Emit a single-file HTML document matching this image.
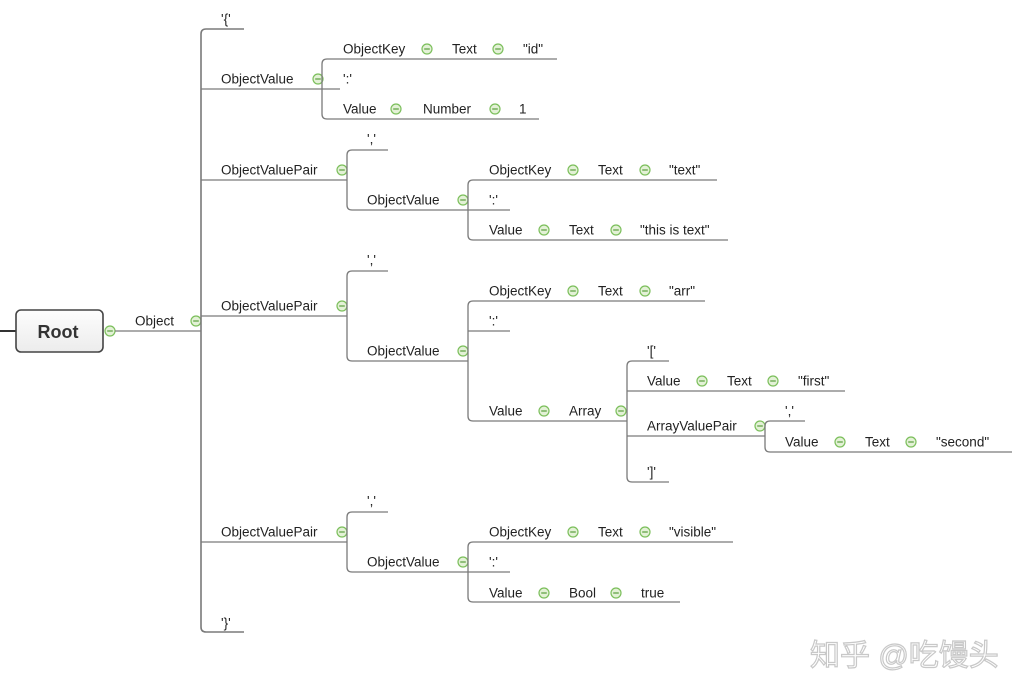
<!DOCTYPE html>
<html><head><meta charset="utf-8"><style>
html,body{margin:0;padding:0;background:#fff;width:1031px;height:698px;overflow:hidden}
svg text{font-family:"Liberation Sans","DejaVu Sans",sans-serif;font-size:13.5px;fill:#222;dominant-baseline:central}
.l{stroke:#7a7a7a;stroke-width:1.3;fill:none}
.c circle{fill:#e3f1d6;stroke:#7cbf5c;stroke-width:1.2}
.c line{stroke:#5a9e3c;stroke-width:1.2}
</style></head><body>
<svg width="1031" height="698" xmlns="http://www.w3.org/2000/svg">
<defs>
<linearGradient id="g" x1="0" y1="0" x2="0" y2="1"><stop offset="0" stop-color="#fdfdfd"/><stop offset="1" stop-color="#ececec"/></linearGradient>
<g id="m" class="c"><circle cx="0" cy="0" r="5"/><line x1="-2.8" y1="0" x2="2.8" y2="0"/></g>
</defs>
<line class="l" x1="0" y1="331" x2="16" y2="331" style="stroke:#333;stroke-width:2"/>
<rect x="16" y="310" width="87" height="42" rx="5" fill="url(#g)" stroke="#444" stroke-width="1.6"/>
<text x="58" y="332" text-anchor="middle" style="font-size:18px;font-weight:bold;fill:#333">Root</text>
<use href="#m" x="110" y="331"/>
<text x="135" y="321">Object</text>
<line class="l" x1="115" y1="331" x2="201" y2="331"/>
<use href="#m" x="196" y="321"/>

<path class="l" d="M244,29 L206,29 Q201,29 201,34 L201,627 Q201,632 206,632 L244,632" style="stroke-width:1.6"/>
<line class="l" x1="201" y1="89" x2="322" y2="89"/>
<line class="l" x1="201" y1="180" x2="347" y2="180"/>
<line class="l" x1="201" y1="316" x2="347" y2="316"/>
<line class="l" x1="201" y1="542" x2="347" y2="542"/>
<text x="221" y="19">'{'</text>
<text x="221" y="623">'}'</text>

<text x="221" y="79">ObjectValue</text><use href="#m" x="318" y="79"/>
<path class="l" d="M557,59 L327,59 Q322,59 322,64 L322,114 Q322,119 327,119 L539,119"/>
<line class="l" x1="322" y1="89" x2="340" y2="89"/>
<text x="343" y="49">ObjectKey</text><use href="#m" x="427" y="49"/><text x="452" y="49">Text</text><use href="#m" x="498" y="49"/><text x="523" y="49">"id"</text>
<text x="343" y="79">':'</text>
<text x="343" y="109">Value</text><use href="#m" x="396" y="109"/><text x="423" y="109">Number</text><use href="#m" x="495" y="109"/><text x="519" y="109">1</text>

<text x="221" y="170">ObjectValuePair</text><use href="#m" x="342" y="170"/>
<path class="l" d="M388,150 L352,150 Q347,150 347,155 L347,205 Q347,210 352,210 L468,210"/>
<text x="367" y="139">','</text>
<text x="367" y="200">ObjectValue</text><use href="#m" x="463" y="200"/>
<path class="l" d="M717,180 L473,180 Q468,180 468,185 L468,235 Q468,240 473,240 L728,240"/>
<line class="l" x1="468" y1="210" x2="510" y2="210"/>
<text x="489" y="170">ObjectKey</text><use href="#m" x="573" y="170"/><text x="598" y="170">Text</text><use href="#m" x="645" y="170"/><text x="669" y="170">"text"</text>
<text x="489" y="200">':'</text>
<text x="489" y="230">Value</text><use href="#m" x="544" y="230"/><text x="569" y="230">Text</text><use href="#m" x="616" y="230"/><text x="640" y="230">"this is text"</text>

<text x="221" y="306">ObjectValuePair</text><use href="#m" x="342" y="306"/>
<path class="l" d="M388,271 L352,271 Q347,271 347,276 L347,356 Q347,361 352,361 L468,361"/>
<text x="367" y="260">','</text>
<text x="367" y="351">ObjectValue</text><use href="#m" x="463" y="351"/>
<path class="l" d="M705,301 L473,301 Q468,301 468,306 L468,416 Q468,421 473,421 L627,421"/>
<line class="l" x1="468" y1="331" x2="510" y2="331"/>
<text x="489" y="291">ObjectKey</text><use href="#m" x="573" y="291"/><text x="598" y="291">Text</text><use href="#m" x="645" y="291"/><text x="669" y="291">"arr"</text>
<text x="489" y="321">':'</text>
<text x="489" y="411">Value</text><use href="#m" x="544" y="411"/><text x="569" y="411">Array</text><use href="#m" x="621" y="411"/>
<path class="l" d="M669,361 L632,361 Q627,361 627,366 L627,477 Q627,482 632,482 L669,482"/>
<line class="l" x1="627" y1="391" x2="845" y2="391"/>
<line class="l" x1="627" y1="436" x2="765" y2="436"/>
<text x="647" y="351">'['</text>
<text x="647" y="381">Value</text><use href="#m" x="702" y="381"/><text x="727" y="381">Text</text><use href="#m" x="773" y="381"/><text x="798" y="381">"first"</text>
<text x="647" y="426">ArrayValuePair</text><use href="#m" x="760" y="426"/>
<path class="l" d="M805,421 L770,421 Q765,421 765,426 L765,447 Q765,452 770,452 L1012,452"/>
<text x="785" y="411">','</text>
<text x="785" y="442">Value</text><use href="#m" x="840" y="442"/><text x="865" y="442">Text</text><use href="#m" x="911" y="442"/><text x="936" y="442">"second"</text>
<text x="647" y="472">']'</text>

<text x="221" y="532">ObjectValuePair</text><use href="#m" x="342" y="532"/>
<path class="l" d="M388,512 L352,512 Q347,512 347,517 L347,567 Q347,572 352,572 L468,572"/>
<text x="367" y="501">','</text>
<text x="367" y="562">ObjectValue</text><use href="#m" x="463" y="562"/>
<path class="l" d="M733,542 L473,542 Q468,542 468,547 L468,597 Q468,602 473,602 L680,602"/>
<line class="l" x1="468" y1="572" x2="510" y2="572"/>
<text x="489" y="532">ObjectKey</text><use href="#m" x="573" y="532"/><text x="598" y="532">Text</text><use href="#m" x="645" y="532"/><text x="669" y="532">"visible"</text>
<text x="489" y="562">':'</text>
<text x="489" y="593">Value</text><use href="#m" x="544" y="593"/><text x="569" y="593">Bool</text><use href="#m" x="616" y="593"/><text x="641" y="593">true</text>

<text x="810" y="656" style="font-family:'Liberation Sans','Noto Sans CJK SC',sans-serif;font-size:30px;fill:#fff;stroke:#c8c8c8;stroke-width:1.2">知乎 @吃馒头</text>
</svg>
</body></html>
